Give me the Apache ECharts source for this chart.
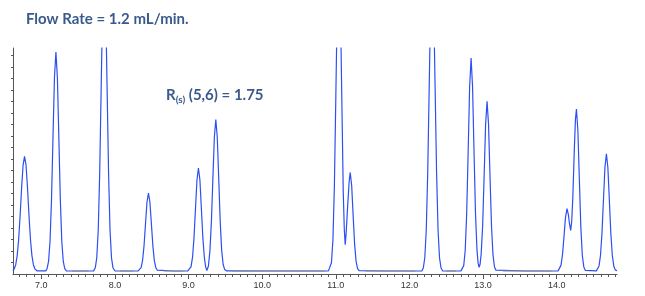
<!DOCTYPE html>
<html><head><meta charset="utf-8">
<script src="https://cdn.jsdelivr.net/npm/echarts@6/dist/echarts.min.js"></script>
<style>html,body{margin:0;padding:0;background:#fff}#c{width:645px;height:296px}</style>
</head><body><div id="c"></div>
<script>
// ---- data ----
const titleText = 'Flow Rate = 1.2 mL/min.';
const resolutionLabel = ['R', '(s)', ' (5,6) = 1.75'];
const xMajorTicks = [7, 8, 9, 10, 11, 12, 13, 14];
const xTickLabels = ['7.0', '8.0', '9.0', '10.0', '11.0', '12.0', '13.0', '14.0'];
const yTicks = [1,2,3,4,5,6,7,8,9,10,11,12,13,14,15,16,17,18,19];

// detector signal (time in min, response in arbitrary units)
const signal = [
[6.615,0.25],
[6.632,0.45],[6.652,0.81],[6.672,1.60],[6.692,3.02],[6.712,5.11],[6.732,7.50],[6.752,9.46],[6.772,10.23],[6.792,9.46],[6.812,7.50],[6.832,5.11],[6.852,3.02],[6.872,1.60],[6.892,0.81],[6.912,0.45],[6.94,0.28],
[7.06,0.27],
[7.078,0.46],[7.098,1.09],[7.118,2.83],[7.138,6.44],[7.158,11.80],[7.178,17.06],[7.198,19.30],[7.218,17.06],[7.238,11.80],[7.258,6.44],[7.278,2.83],[7.298,1.09],[7.318,0.46],[7.34,0.28],
[7.5,0.26],[7.71,0.27],
[7.733,0.54],[7.753,1.41],[7.773,3.83],[7.793,8.84],[7.813,16.29],[7.833,23.59],[7.853,26.70],[7.873,23.59],[7.893,16.29],[7.913,8.84],[7.933,3.83],[7.953,1.41],[7.973,0.54],[8.0,0.28],
[8.15,0.26],[8.315,0.27],
[8.335,0.33],[8.355,0.55],[8.375,1.17],[8.395,2.45],[8.415,4.37],[8.435,6.24],[8.455,7.04],[8.475,6.24],[8.495,4.37],[8.515,2.45],[8.535,1.17],[8.555,0.55],[8.575,0.33],[8.6,0.27],
[8.8,0.26],[8.99,0.27],
[9.014,0.35],[9.034,0.64],[9.054,1.46],[9.074,3.16],[9.094,5.69],[9.114,8.17],[9.134,9.22],[9.154,8.17],[9.174,5.69],[9.194,3.16],[9.214,1.46],[9.232,0.62],[9.248,0.30],
[9.27,0.70],[9.29,2.03],[9.31,4.53],[9.33,8.24],[9.35,11.87],[9.37,13.42],[9.39,11.87],[9.41,8.24],[9.43,4.53],[9.45,2.03],[9.47,0.83],[9.49,0.40],[9.52,0.27],
[10.2,0.26],[10.9,0.27],
[10.921,0.40],[10.941,0.98],[10.961,2.95],[10.981,7.70],[11.001,15.60],[11.021,24.00],[11.041,27.60],[11.061,24.00],[11.081,15.60],[11.101,7.2],[11.116,3.8],[11.128,2.55],[11.141,3.6],[11.161,5.9],[11.181,8.0],[11.196,8.83],[11.216,7.66],[11.236,5.03],[11.256,2.55],[11.276,1.08],[11.296,0.47],[11.316,0.29],
[11.7,0.26],[12.17,0.27],
[12.189,0.54],[12.209,1.41],[12.229,3.83],[12.249,8.84],[12.269,16.29],[12.289,23.59],[12.309,26.70],[12.329,23.59],[12.349,16.29],[12.369,8.84],[12.389,3.83],[12.409,1.41],[12.429,0.54],[12.45,0.28],
[12.57,0.26],[12.70,0.27],
[12.718,0.35],[12.738,0.73],[12.758,2.04],[12.778,5.22],[12.798,10.57],[12.818,16.26],[12.838,18.78],[12.858,16.26],[12.878,10.57],[12.898,5.22],[12.918,2.05],[12.934,0.9],[12.947,0.57],[12.96,0.85],[12.975,1.75],[12.995,4.21],[13.015,8.47],[13.035,13.00],[13.055,15.01],[13.075,13.00],[13.095,8.47],[13.115,4.21],[13.135,1.68],[13.155,0.63],[13.175,0.33],[13.2,0.27],
[13.6,0.26],[14.02,0.27],
[14.04,0.39],[14.06,0.77],[14.08,1.70],[14.10,3.25],[14.12,4.91],[14.141,5.68],[14.16,5.15],[14.175,4.35],[14.191,3.79],[14.205,4.6],[14.22,6.67],[14.24,10.77],[14.255,13.4],[14.269,14.35],[14.289,12.43],[14.309,8.10],[14.329,4.03],[14.349,1.61],[14.369,0.62],[14.389,0.32],[14.41,0.27],
[14.54,0.27],
[14.556,0.36],[14.576,0.70],[14.596,1.63],[14.616,3.57],[14.636,6.44],[14.656,9.26],[14.676,10.46],[14.696,9.26],[14.716,6.44],[14.736,3.57],[14.756,1.63],[14.776,0.70],[14.796,0.36],[14.82,0.28]
];

// integration baselines drawn between peaks (start, end, level)
const baselineStarts = [7.42, 8.07, 8.66, 9.59, 11.40, 12.50, 13.27];
const baselineEnds   = [7.64, 8.25, 8.93, 10.85, 12.08, 12.63, 13.93];
const baselineLevel  = 0.26;

// ---- chart ----
const xMinorTicks = [];
for (let i = 67; i <= 148; i++) xMinorTicks.push(i / 10);

const textColor = '#3a5a8c';
const axisColor = '#555';

const baselineSeries = baselineStarts.map((s, i) => ({
  type: 'line', xAxisIndex: 0, yAxisIndex: 0, showSymbol: false, silent: true,
  lineStyle: { color: '#8a8a8a', width: 1.2 },
  data: [[s, baselineLevel], [baselineEnds[i], baselineLevel]],
  z: 3
}));

const chart = echarts.init(document.getElementById('c'), null, { renderer: 'canvas' });
chart.setOption({
  animation: false,
  backgroundColor: '#ffffff',
  grid: { left: 13, right: 28, top: 48, bottom: 22, containLabel: false },
  xAxis: [{
    type: 'value', min: 6.615, max: 14.82, position: 'bottom',
    axisLine: { show: true, onZero: false, lineStyle: { color: axisColor, width: 1 } },
    axisTick: { show: true, customValues: xMinorTicks, length: 3, lineStyle: { color: axisColor } },
    axisLabel: { show: false },
    splitLine: { show: false }
  }, {
    type: 'value', min: 6.615, max: 14.82, position: 'bottom', gridIndex: 0,
    axisLine: { show: false },
    axisTick: { show: true, customValues: xMajorTicks, length: 5, lineStyle: { color: axisColor } },
    axisLabel: {
      show: true, customValues: xMajorTicks, margin: 7,
      formatter: v => xTickLabels[xMajorTicks.indexOf(Math.round(v))] || '',
      color: '#333', fontSize: 9, fontFamily: 'Liberation Sans'
    },
    splitLine: { show: false }
  }],
  yAxis: {
    type: 'value', min: 0, max: 19.65,
    axisLine: { show: true, onZero: false, lineStyle: { color: axisColor, width: 1 } },
    axisTick: { show: true, customValues: yTicks, length: 2, lineStyle: { color: axisColor } },
    axisLabel: { show: false },
    splitLine: { show: false }
  },
  graphic: [{
    type: 'text', left: 26, top: 12,
    style: { text: titleText, fill: textColor, fontFamily: 'Lato', fontWeight: 'bold', fontSize: 15 }
  }, {
    type: 'text', left: 166, top: 88,
    style: {
      text: '{m|' + resolutionLabel[0] + '}{s|' + resolutionLabel[1] + '}{m|' + resolutionLabel[2] + '}',
      rich: {
        m: { fill: textColor, fontFamily: 'Lato', fontWeight: 'bold', fontSize: 15, lineHeight: 18 },
        s: { fill: textColor, fontFamily: 'Lato', fontWeight: 'bold', fontSize: 10, lineHeight: 14, verticalAlign: 'bottom' }
      }
    }
  }],
  series: [{
    type: 'line', xAxisIndex: 0, yAxisIndex: 0, showSymbol: false, clip: true, silent: true,
    lineStyle: { color: '#2d4ff2', width: 1.2 },
    data: signal, z: 2
  }].concat(baselineSeries)
});
</script></body></html>
